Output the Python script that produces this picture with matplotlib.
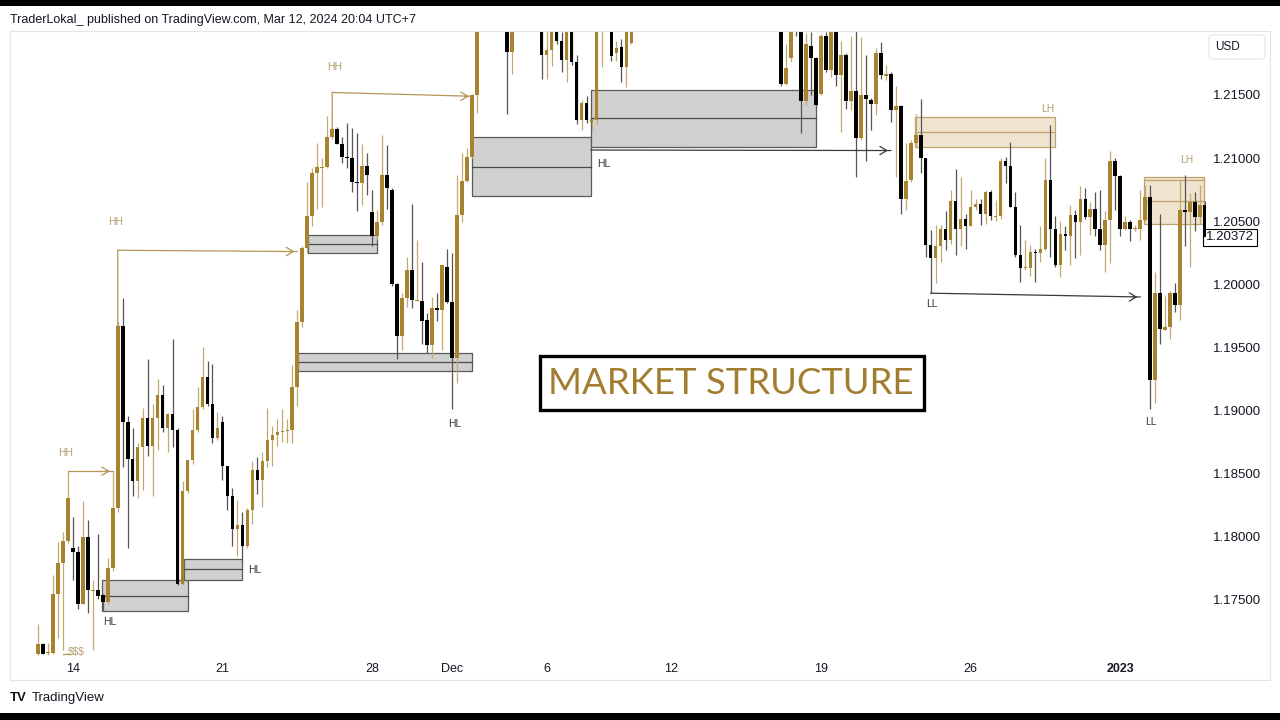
import numpy as np
import matplotlib
matplotlib.use("Agg")
import matplotlib.pyplot as plt
from matplotlib.patches import Rectangle, FancyBboxPatch
from matplotlib.transforms import blended_transform_factory

nan = float("nan")

# 4H candles, EURUSD-like, Nov 11 2022 -> Jan 4 2023 (nan = above visible range)
opens = [
    1.1707, 1.1715, 1.1708, 1.1708, 1.1755, 1.1779, 1.1797, 1.1791, 1.1788, 1.1747,
    1.1800, 1.1757, 1.1758, 1.1754, 1.1748, 1.1775, 1.1823, 1.1967, 1.1891, 1.1862,
    1.1844, 1.1871, 1.1894, 1.1872, 1.1894, 1.1912, 1.1886, 1.1897, 1.1885, 1.1763,
    1.1836, 1.1861, 1.1885, 1.1903, 1.1927, 1.1905, 1.1878, 1.1891, 1.1856, 1.1832,
    1.1806, 1.1809, 1.1793, 1.1821, 1.1853, 1.1845, 1.1860, 1.1877, 1.1881, 1.1883,
    1.1884, 1.1885, 1.1919, 1.1970, 1.2029, 1.2054, 1.2088, 1.2092, 1.2093, 1.2117,
    1.2123, 1.2111, 1.2101, 1.2100, 1.2081, 1.2080, 1.2094, 1.2057, 1.2038, 1.2049,
    1.2087, 1.2075, 1.2000, 1.1959, 1.1989, 1.2011, 1.1987, 1.1987, 1.1972, 1.1952,
    1.1981, 1.1980, 1.2014, 1.1986, 1.1942, 1.2055, 1.2082, 1.2101, 1.2150, nan,
    nan, nan, nan, nan, 1.2215, 1.2184, nan, nan, nan, nan,
    nan, 1.2220, 1.2182, 1.2186, 1.2225, 1.2193, 1.2178, 1.2215, 1.2176, 1.2130,
    1.2144, 1.2129, 1.2130, 1.2215, nan, 1.2225, 1.2183, 1.2188, 1.2172, 1.2191,
    nan, nan, nan, nan, nan, nan, nan, nan, nan, nan,
    nan, nan, nan, nan, nan, nan, nan, nan, nan, nan,
    nan, nan, nan, nan, nan, nan, nan, nan, nan, 1.2215,
    1.2159, 1.2179, 1.2235, 1.2215, 1.2145, 1.2189, 1.2179, 1.2151, 1.2197, 1.2170,
    1.2205, 1.2166, 1.2182, 1.2145, 1.2153, 1.2116, 1.2150, 1.2146, 1.2143, 1.2183,
    1.2165, 1.2167, 1.2138, 1.2141, 1.2068, 1.2083, 1.2112, 1.2118, 1.2100, 1.2031,
    1.2021, 1.2030, 1.2044, 1.2035, 1.2066, 1.2044, 1.2052, 1.2046, 1.2061, 1.2064,
    1.2056, 1.2073, 1.2053, 1.2054, 1.2098, 1.2094, 1.2061, 1.2023, 1.2013, 1.2013,
    1.2026, 1.2025, 1.2028, 1.2083, 1.2044, 1.2015, 1.2040, 1.2038, 1.2055, 1.2049,
    1.2068, 1.2053, 1.2060, 1.2044, 1.2031, 1.2051, 1.2098, 1.2086, 1.2044, 1.2049,
    1.2044, 1.2044, 1.2051, 1.2069, 1.1924, 1.1993, 1.1964, 1.1966, 1.1993, 1.1984,
    1.2059, 1.2057, 1.2065, 1.2053, 1.2063,
]
highs = [
    1.1731, 1.1716, 1.1716, 1.1770, 1.1796, 1.1804, 1.1852, 1.1816, 1.1793, 1.1828,
    1.1813, 1.1766, 1.1802, 1.1755, 1.1783, 1.1852, 1.1970, 1.1989, 1.1896, 1.1886,
    1.1874, 1.1902, 1.1941, 1.1905, 1.1925, 1.1920, 1.1898, 1.1957, 1.1886, 1.1844,
    1.1861, 1.1901, 1.1919, 1.1950, 1.1939, 1.1937, 1.1899, 1.1896, 1.1856, 1.1839,
    1.1829, 1.1820, 1.1823, 1.1860, 1.1863, 1.1867, 1.1902, 1.1888, 1.1893, 1.1901,
    1.1893, 1.1936, 1.1980, 1.2030, 1.2081, 1.2092, 1.2112, 1.2100, 1.2133, 1.2125,
    1.2125, 1.2117, 1.2128, 1.2124, 1.2120, 1.2111, 1.2104, 1.2075, 1.2059, 1.2118,
    1.2110, 1.2076, 1.2001, 1.1993, 1.2022, 1.2064, 1.2035, 1.2018, 1.1977, 1.1990,
    1.1993, 1.2015, 1.2028, 1.2025, 1.2087, 1.2104, 1.2108, 1.2151, 1.2230, nan,
    nan, nan, nan, nan, 1.2240, 1.2230, nan, nan, nan, nan,
    nan, 1.2235, 1.2205, 1.2225, 1.2235, 1.2200, 1.2230, 1.2225, 1.2182, 1.2146,
    1.2149, 1.2131, 1.2230, 1.2240, nan, 1.2240, 1.2193, 1.2194, 1.2225, 1.2230,
    nan, nan, nan, nan, nan, nan, nan, nan, nan, nan,
    nan, nan, nan, nan, nan, nan, nan, nan, nan, nan,
    nan, nan, nan, nan, nan, nan, nan, nan, nan, 1.2225,
    1.2190, 1.2230, 1.2245, 1.2230, 1.2199, 1.2200, 1.2180, 1.2198, 1.2200, 1.2215,
    1.2215, 1.2193, 1.2183, 1.2197, 1.2205, 1.2196, 1.2182, 1.2148, 1.2187, 1.2192,
    1.2174, 1.2168, 1.2157, 1.2142, 1.2112, 1.2114, 1.2135, 1.2147, 1.2100, 1.2043,
    1.2047, 1.2047, 1.2058, 1.2075, 1.2091, 1.2085, 1.2056, 1.2075, 1.2068, 1.2068,
    1.2075, 1.2075, 1.2067, 1.2100, 1.2101, 1.2113, 1.2073, 1.2047, 1.2035, 1.2031,
    1.2028, 1.2046, 1.2100, 1.2126, 1.2054, 1.2050, 1.2046, 1.2063, 1.2059, 1.2078,
    1.2076, 1.2065, 1.2073, 1.2075, 1.2058, 1.2106, 1.2100, 1.2087, 1.2054, 1.2051,
    1.2047, 1.2075, 1.2079, 1.2079, 1.2010, 1.2056, 1.1991, 1.1995, 1.2001, 1.2083,
    1.2087, 1.2072, 1.2073, 1.2079, 1.2066,
]
lows = [
    1.1706, 1.1707, 1.1706, 1.1707, 1.1720, 1.1710, 1.1795, 1.1766, 1.1743, 1.1747,
    1.1740, 1.1710, 1.1751, 1.1742, 1.1747, 1.1773, 1.1820, 1.1855, 1.1791, 1.1832,
    1.1831, 1.1837, 1.1864, 1.1832, 1.1869, 1.1883, 1.1867, 1.1871, 1.1762, 1.1762,
    1.1835, 1.1858, 1.1883, 1.1901, 1.1904, 1.1874, 1.1877, 1.1845, 1.1821, 1.1793,
    1.1785, 1.1782, 1.1791, 1.1810, 1.1834, 1.1824, 1.1855, 1.1856, 1.1872, 1.1875,
    1.1874, 1.1874, 1.1904, 1.1966, 1.2025, 1.2046, 1.2060, 1.2061, 1.2092, 1.2115,
    1.2111, 1.2096, 1.2092, 1.2073, 1.2058, 1.2063, 1.2071, 1.2030, 1.2036, 1.2047,
    1.2060, 1.1999, 1.1941, 1.1948, 1.1982, 1.1981, 1.1987, 1.1953, 1.1946, 1.1942,
    1.1971, 1.1948, 1.1985, 1.1901, 1.1922, 1.2049, 1.2081, 1.2100, 1.2136, nan,
    nan, nan, nan, nan, 1.2135, 1.2167, nan, nan, nan, nan,
    nan, 1.2163, 1.2163, 1.2173, 1.2190, 1.2168, 1.2160, 1.2174, 1.2127, 1.2122,
    1.2128, 1.2122, 1.2127, 1.2172, nan, 1.2177, 1.2177, 1.2160, 1.2156, 1.2190,
    nan, nan, nan, nan, nan, nan, nan, nan, nan, nan,
    nan, nan, nan, nan, nan, nan, nan, nan, nan, nan,
    nan, nan, nan, nan, nan, nan, nan, nan, nan, 1.2157,
    1.2158, 1.2176, 1.2197, 1.2120, 1.2142, 1.2150, 1.2141, 1.2150, 1.2168, 1.2164,
    1.2157, 1.2121, 1.2139, 1.2138, 1.2085, 1.2114, 1.2098, 1.2122, 1.2134, 1.2163,
    1.2162, 1.2129, 1.2085, 1.2056, 1.2059, 1.2081, 1.2109, 1.2088, 1.2022, 1.1993,
    1.2001, 1.2018, 1.2027, 1.2032, 1.2023, 1.2030, 1.2028, 1.2046, 1.2059, 1.2047,
    1.2048, 1.2051, 1.2050, 1.2052, 1.2080, 1.2061, 1.2022, 1.2002, 1.2011, 1.2007,
    1.2002, 1.2018, 1.2027, 1.2022, 1.2014, 1.2006, 1.2027, 1.2015, 1.2021, 1.2023,
    1.2052, 1.2039, 1.2038, 1.2027, 1.2010, 1.2017, 1.2059, 1.2038, 1.2043, 1.2034,
    1.2042, 1.2035, 1.2050, 1.1901, 1.1906, 1.1953, 1.1964, 1.1957, 1.1978, 1.1972,
    1.2030, 1.2014, 1.2042, 1.2048, 1.2033,
]
closes = [
    1.1715, 1.1707, 1.1709, 1.1755, 1.1779, 1.1797, 1.1831, 1.1788, 1.1747, 1.1800,
    1.1758, 1.1758, 1.1753, 1.1748, 1.1775, 1.1823, 1.1967, 1.1891, 1.1862, 1.1844,
    1.1871, 1.1894, 1.1872, 1.1894, 1.1912, 1.1886, 1.1897, 1.1885, 1.1763, 1.1836,
    1.1861, 1.1885, 1.1903, 1.1927, 1.1905, 1.1878, 1.1886, 1.1856, 1.1832, 1.1806,
    1.1809, 1.1793, 1.1821, 1.1853, 1.1845, 1.1860, 1.1877, 1.1881, 1.1883, 1.1884,
    1.1885, 1.1919, 1.1970, 1.2029, 1.2054, 1.2088, 1.2093, 1.2093, 1.2117, 1.2123,
    1.2111, 1.2101, 1.2100, 1.2081, 1.2080, 1.2094, 1.2087, 1.2038, 1.2049, 1.2087,
    1.2076, 1.2000, 1.1959, 1.1989, 1.2011, 1.1988, 1.1988, 1.1971, 1.1952, 1.1981,
    1.1980, 1.2015, 1.1986, 1.1942, 1.2055, 1.2082, 1.2101, 1.2150, 1.2225, nan,
    nan, nan, nan, nan, 1.2184, 1.2215, nan, nan, nan, nan,
    nan, 1.2182, 1.2186, 1.2215, 1.2193, 1.2178, 1.2215, 1.2176, 1.2130, 1.2144,
    1.2130, 1.2131, 1.2215, 1.2228, nan, 1.2181, 1.2187, 1.2172, 1.2215, 1.2220,
    nan, nan, nan, nan, nan, nan, nan, nan, nan, nan,
    nan, nan, nan, nan, nan, nan, nan, nan, nan, nan,
    nan, nan, nan, nan, nan, nan, nan, nan, nan, 1.2159,
    1.2171, 1.2215, 1.2210, 1.2145, 1.2190, 1.2179, 1.2142, 1.2197, 1.2170, 1.2205,
    1.2166, 1.2182, 1.2145, 1.2153, 1.2116, 1.2150, 1.2147, 1.2143, 1.2183, 1.2166,
    1.2167, 1.2138, 1.2141, 1.2068, 1.2082, 1.2112, 1.2118, 1.2100, 1.2031, 1.2021,
    1.2030, 1.2044, 1.2035, 1.2066, 1.2044, 1.2052, 1.2046, 1.2061, 1.2064, 1.2056,
    1.2073, 1.2054, 1.2054, 1.2098, 1.2094, 1.2061, 1.2023, 1.2013, 1.2014, 1.2026,
    1.2025, 1.2028, 1.2083, 1.2044, 1.2015, 1.2040, 1.2038, 1.2055, 1.2049, 1.2068,
    1.2053, 1.2060, 1.2044, 1.2031, 1.2051, 1.2098, 1.2086, 1.2044, 1.2049, 1.2044,
    1.2045, 1.2051, 1.2069, 1.1924, 1.1993, 1.1965, 1.1966, 1.1993, 1.1984, 1.2059,
    1.2057, 1.2065, 1.2053, 1.2063, 1.20372,
]

date_ticks = [7, 37, 67, 83, 102, 127, 157, 187, 217]
date_labels = ["14", "21", "28", "Dec", "6", "12", "19", "26", "2023"]
price_ticks = [1.175, 1.180, 1.185, 1.190, 1.195, 1.200, 1.205, 1.210, 1.215]
last_price = 1.20372

# zones: (start bar, end bar, top, bottom, mid)
demand_zones = [
    (12.9, 30.0, 1.17658, 1.17415, 1.17534),
    (29.3, 40.9, 1.17822, 1.17658, 1.17743),
    (54.1, 67.9, 1.20391, 1.20251, 1.20320),
    (52.1, 87.0, 1.19454, 1.19316, 1.19387),
    (87.0, 110.9, 1.21169, 1.20700, 1.20932),
    (110.9, 156.0, 1.21539, 1.21090, 1.21315),
]
supply_zones = [
    (175.9, 203.9, 1.21328, 1.21090, 1.21204),
    (221.8, 233.8, 1.20853, 1.20478, 1.20663),
]

# structure labels: (text, bar, price, kind)
labels = [
    ("HH", 5.6, 1.18664, "up"), ("HH", 15.6, 1.20494, "up"), ("HH", 59.5, 1.21721, "up"),
    ("HL", 14.4, 1.17326, "dn"), ("HL", 43.4, 1.17738, "dn"), ("HL", 83.5, 1.18894, "dn"),
    ("HL", 113.4, 1.20953, "dn"), ("LH", 202.4, 1.21389, "up"), ("LH", 230.4, 1.20985, "up"),
    ("LL", 179.3, 1.19844, "dn"), ("LL", 223.2, 1.18910, "dn"), ("$$$", 7.8, 1.17088, "up"),
]

# break-of-structure arrows: list of (bar, price) points, colour kind
arrows = [
    ([(6, 1.1852), (15, 1.1852)], "up"),
    ([(16, 1.1967), (16, 1.2027), (52, 1.2026)], "up"),
    ([(59, 1.2123), (59, 1.2152), (87, 1.2149)], "up"),
    ([(110.9, 1.21064), (171, 1.21060)], "dn"),
    ([(179, 1.1993), (221, 1.1990)], "dn"),
    ([(5, 1.1707), (6.3, 1.1707)], "up"),
]

GOLD = "#a7832f"
GOLD_WICK = "#c4a96e"
GOLD_LINE = "#b59457"
GOLD_TXT = "#b59d6c"
BLACK = "#000000"
BLACK_WICK = "#555555"
DARK_TXT = "#3a3a3a"

W, H = 1280, 720


def fx(px):
    return px / W


def fy(py):
    return 1 - py / H


plt.rcParams["font.family"] = ["Liberation Sans", "DejaVu Sans"]
fig = plt.figure(figsize=(12.8, 7.2), dpi=100)
fig.patch.set_facecolor("white")

ax = fig.add_axes([fx(10), fy(656), fx(1206) - fx(10), fy(32) - fy(656)])
ax.set_xlim(-5.6, 234.2)
ax.set_ylim(1.17056, 1.21999)

o = np.array(opens)
h = np.array(highs)
l = np.array(lows)
c = np.array(closes)
x = np.arange(len(o))
ok = ~np.isnan(o)
up = ok & (c >= o)
dn = ok & (c < o)

ax.vlines(x[up], l[up], h[up], color=GOLD_WICK, lw=0.9, zorder=3)
ax.vlines(x[dn], l[dn], h[dn], color=BLACK_WICK, lw=0.9, zorder=3)
body_lo = np.minimum(o, c)
body_h = np.maximum(np.abs(c - o), 0.00007)
ax.bar(x[up], body_h[up], bottom=body_lo[up], width=0.72, color=GOLD, lw=0, zorder=4)
ax.bar(x[dn], body_h[dn], bottom=body_lo[dn], width=0.72, color=BLACK, lw=0, zorder=4)

for x0, x1, top, bot, mid in demand_zones:
    ax.add_patch(Rectangle((x0, bot), x1 - x0, top - bot, facecolor="#d0d0d0",
                           edgecolor="#5a5a5a", lw=0.9, zorder=1))
    ax.plot([x0, x1], [mid, mid], color="#4a4a4a", lw=0.9, zorder=2)

for i, (x0, x1, top, bot, mid) in enumerate(supply_zones):
    ax.add_patch(Rectangle((x0, bot), x1 - x0, top - bot, facecolor="#efe4d0",
                           edgecolor="#c0a36b", lw=0.9, zorder=1))
    ax.plot([x0, x1], [mid, mid], color="#c0a36b", lw=0.9, zorder=2)
    if i == 1:
        ax.plot([x0, x1], [1.20826, 1.20826], color="#c0a36b", lw=0.9, zorder=2)

for pts, kind in arrows:
    col = GOLD_LINE if kind == "up" else "#3a3a3a"
    xs = [p[0] for p in pts]
    ys = [p[1] for p in pts]
    ax.plot(xs, ys, color=col, lw=0.9, zorder=5)
    if xs[-1] - xs[-2] > 3:
        ax.annotate("", xy=(xs[-1], ys[-1]), xytext=(xs[-1] - 2, ys[-1]),
                    arrowprops=dict(arrowstyle="->,head_length=0.5,head_width=0.3",
                                    color=col, lw=0.9), zorder=5)

for txt, bx, py, kind in labels:
    ax.text(bx, py, txt, ha="center", va="center", fontsize=7.5,
            color=GOLD_TXT if kind == "up" else DARK_TXT, zorder=6)

for s in ax.spines.values():
    s.set_visible(False)
ax.set_xticks(date_ticks)
ax.set_xticklabels(date_labels)
for t in ax.get_xticklabels():
    if t.get_text() == "2023":
        t.set_fontweight("bold")
ax.yaxis.tick_right()
ax.set_yticks(price_ticks)
ax.set_yticklabels([f"{v:.5f}" for v in price_ticks])
ax.tick_params(axis="x", length=0, pad=5, labelsize=9, labelcolor="#131722")
ax.tick_params(axis="y", length=0, pad=5, labelsize=9.5, labelcolor="#131722")

trans = blended_transform_factory(ax.transAxes, ax.transData)
ax.text(1.0, last_price, f"{last_price:.5f}", transform=trans, ha="left", va="center",
        fontsize=9.5, color="#131722",
        bbox=dict(boxstyle="square,pad=0.2", fc="white", ec="black", lw=0.8))

# title box
fig.patches.append(Rectangle((fx(540), fy(410)), fx(924) - fx(540), fy(356) - fy(410),
                             transform=fig.transFigure, facecolor="white",
                             edgecolor="black", lw=2.4, zorder=10))
fig.text(fx(731), fy(384), "MARKET STRUCTURE", ha="center", va="center",
         fontsize=26.3, color="#a27d2f", family=["Lato", "DejaVu Sans"], zorder=11)

# frame, header, footer
fig.patches.append(Rectangle((fx(10), fy(680)), fx(1270) - fx(10), fy(31) - fy(680),
                             transform=fig.transFigure, fill=False,
                             edgecolor="#e3e5ea", lw=0.8))
fig.patches.append(Rectangle((0, fy(6)), 1, 6 / H, transform=fig.transFigure,
                             color="black", lw=0))
fig.patches.append(Rectangle((0, 0), 1, 7 / H, transform=fig.transFigure,
                             color="black", lw=0))
fig.patches.append(FancyBboxPatch((fx(1209), fy(59)), fx(1265) - fx(1209), fy(35) - fy(59),
                                  boxstyle="round,pad=0,rounding_size=0.004",
                                  transform=fig.transFigure, facecolor="white",
                                  edgecolor="#e3e5ea", lw=0.8))
fig.text(fx(1228), fy(47), "USD", ha="center", va="center", fontsize=8.5, color="#131722")
fig.text(fx(10), fy(20), "TraderLokal_ published on TradingView.com, Mar 12, 2024 20:04 UTC+7",
         ha="left", va="center", fontsize=9, color="#131722")
fig.text(fx(10), fy(698), "TV", ha="left", va="center", fontsize=9.5,
         fontweight="heavy", color="#131722")
fig.text(fx(32), fy(698), "TradingView", ha="left", va="center", fontsize=9.5,
         color="#131722")

fig.savefig("out.png", dpi=100)
